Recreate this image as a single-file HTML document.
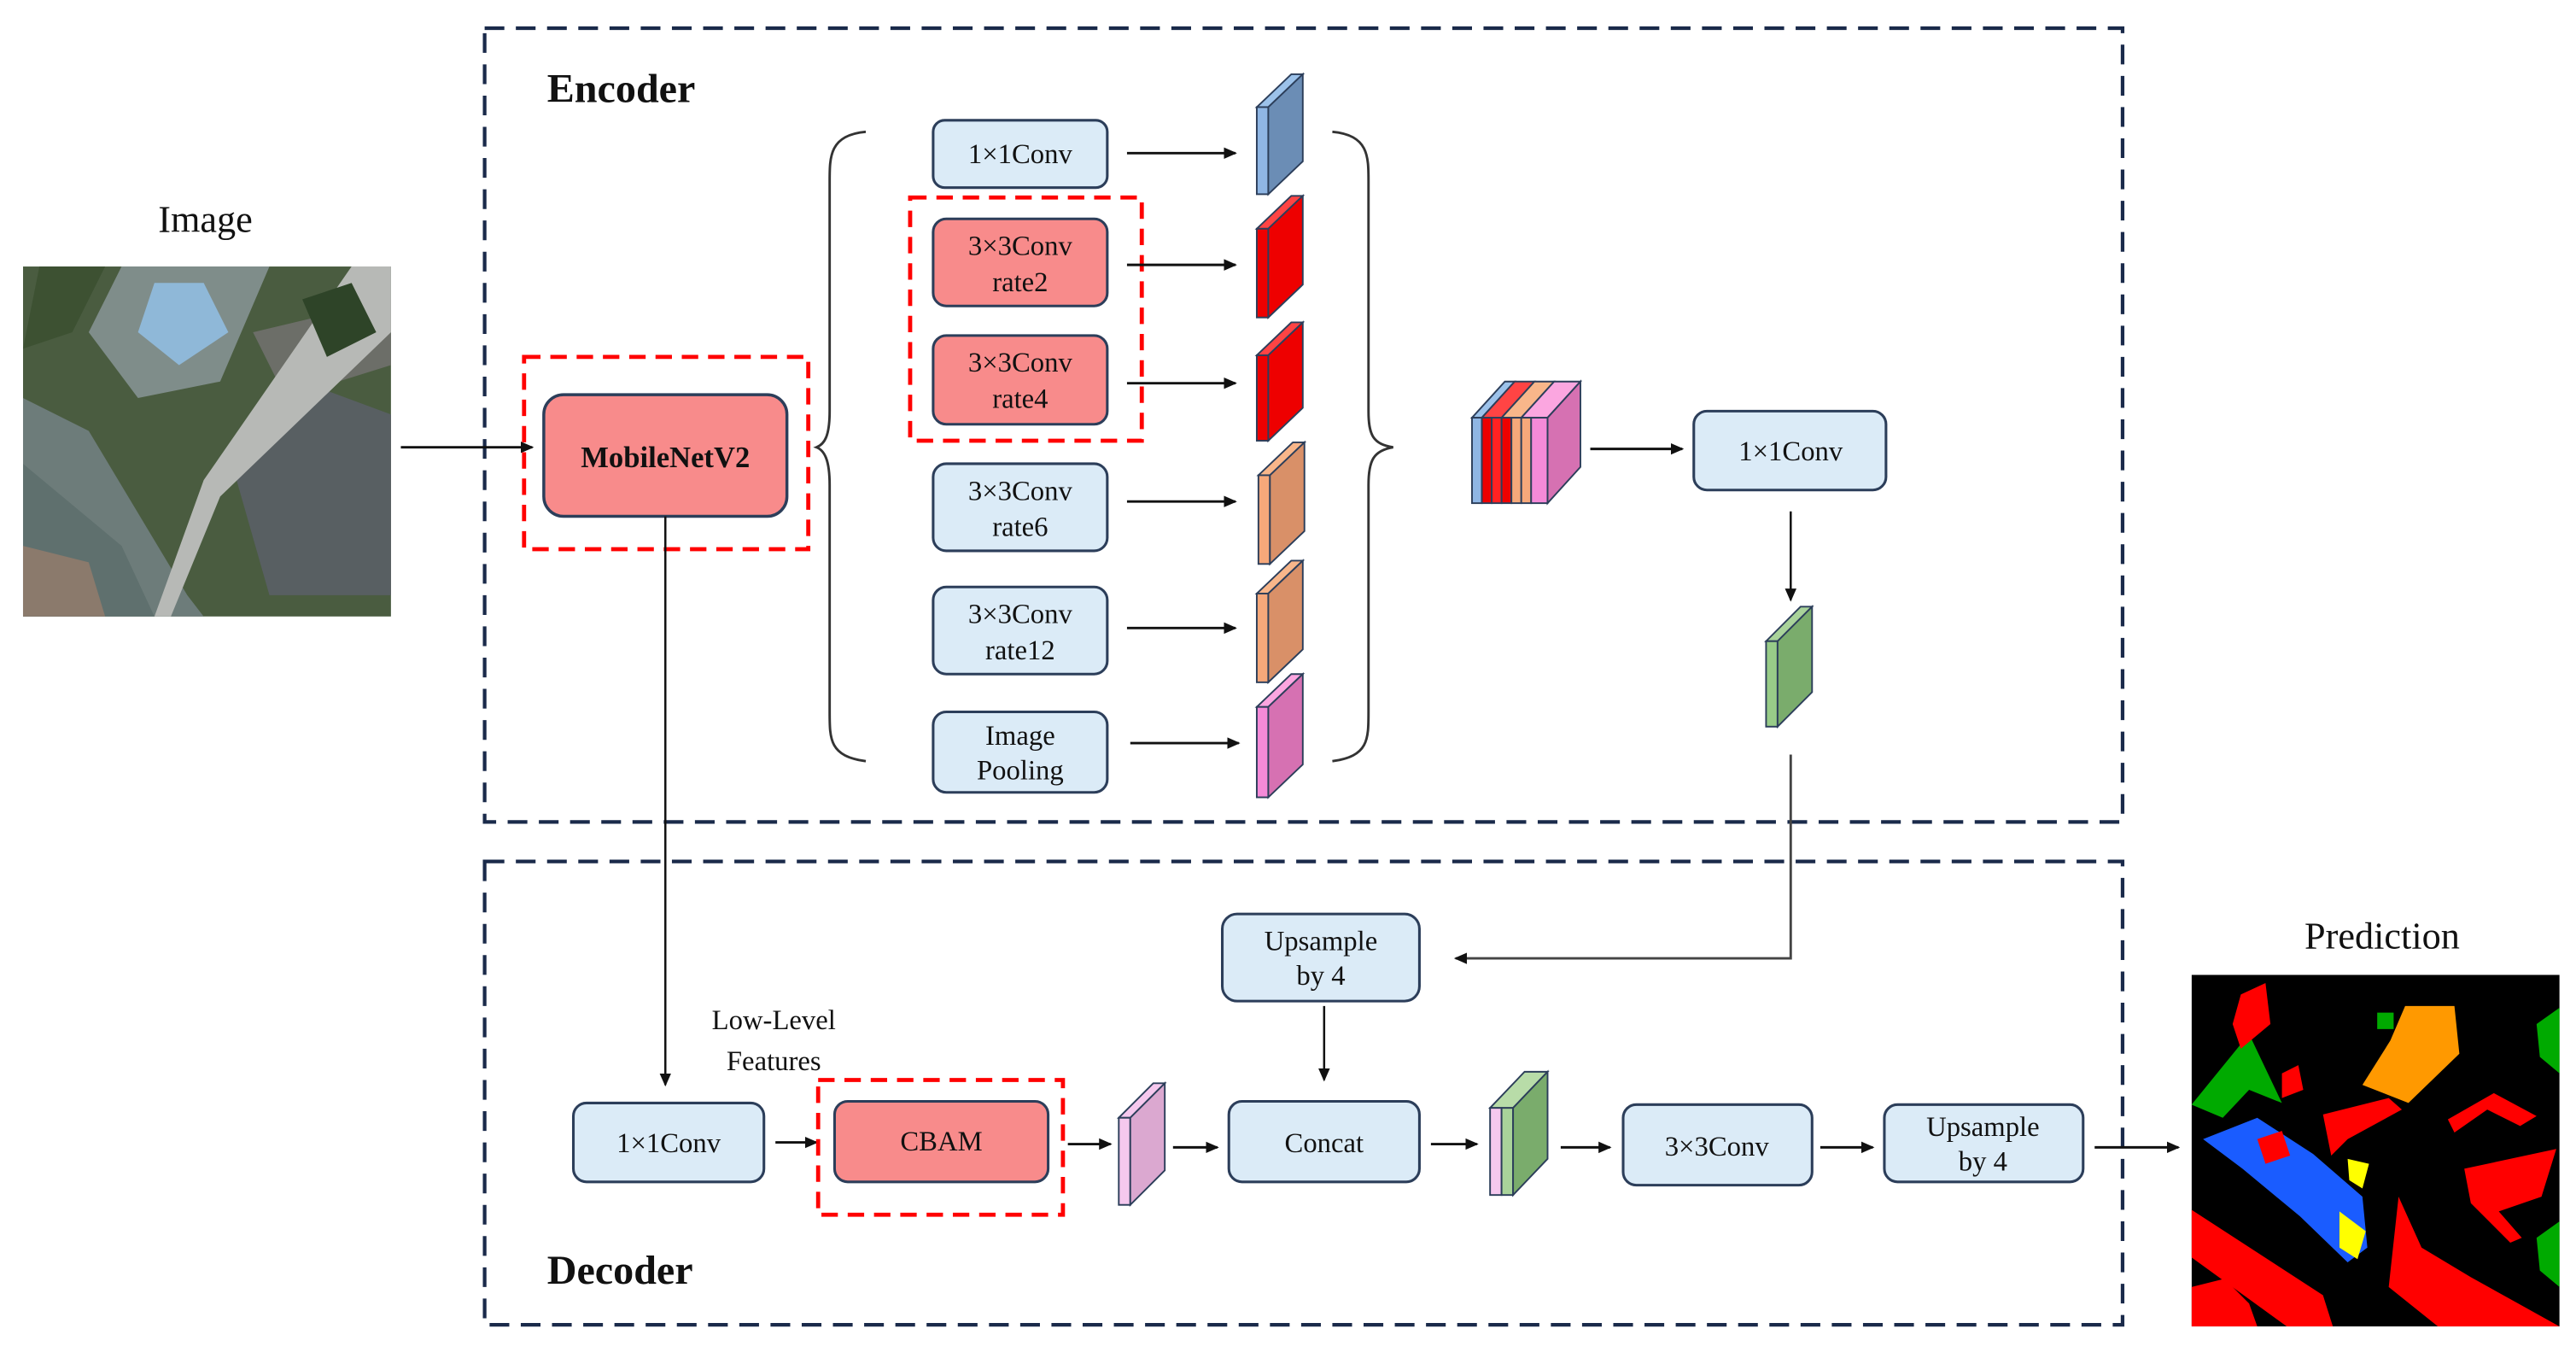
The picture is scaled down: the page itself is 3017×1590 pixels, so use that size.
<!DOCTYPE html>
<html><head><meta charset="utf-8"><style>
html,body{margin:0;padding:0;background:#fff;}
svg{display:block;}
svg text{font-family:"Liberation Serif","DejaVu Serif",serif;fill:#111;}
</style></head><body>
<svg width="3017" height="1590" viewBox="0 0 1568 826" xmlns="http://www.w3.org/2000/svg" font-family="Liberation Serif, DejaVu Serif, serif">
<defs>
<marker id="a" markerWidth="8" markerHeight="8" refX="7" refY="4" orient="auto" markerUnits="userSpaceOnUse"><path d="M0,0.5 L8,4 L0,7.5 z" fill="#111"/></marker>
<clipPath id="pc"><rect x="0" y="0" width="224" height="214"/></clipPath>
<clipPath id="ic"><rect x="0" y="0" width="224" height="213"/></clipPath>
</defs>

<rect x="295" y="17" width="997" height="483" fill="none" stroke="#1a2a4a" stroke-width="2.2" stroke-dasharray="12,7"/>
<rect x="295" y="524" width="997" height="282" fill="none" stroke="#1a2a4a" stroke-width="2.2" stroke-dasharray="12,7"/>
<text x="333" y="62" font-size="25" font-weight="bold">Encoder</text>
<text x="333" y="781" font-size="25" font-weight="bold">Decoder</text>

<text x="125" y="141" font-size="23" text-anchor="middle">Image</text>
<g transform="translate(14,162)" clip-path="url(#ic)">
<rect width="224" height="213" fill="#4a5c40"/>
<polygon points="0,80 40,100 100,200 110,213 0,213" fill="#6d7c7a"/>
<polygon points="0,120 60,170 80,213 0,213" fill="#5f706e"/>
<polygon points="60,0 150,0 120,70 70,80 40,40" fill="#7f8d8a"/>
<polygon points="80,10 110,10 125,40 95,60 70,40" fill="#8fb8d8"/>
<polygon points="170,70 224,90 224,200 150,200 130,130" fill="#585f62"/>
<polygon points="140,40 224,20 224,60 160,80" fill="#6c6e68"/>
<polygon points="200,0 224,0 224,40 120,140 90,213 80,213 110,130" fill="#b7b9b6"/>
<polygon points="10,0 50,0 30,40 0,50" fill="#3d5132"/>
<polygon points="0,170 40,180 50,213 0,213" fill="#8b7a6c"/>
<polygon points="170,20 200,10 215,40 185,55" fill="#2e4428"/>
</g>
<line x1="244" y1="272" x2="324" y2="272" stroke="#111" stroke-width="1.5" marker-end="url(#a)"/>

<rect x="319" y="217" width="173" height="117" fill="none" stroke="#f00" stroke-width="2.5" stroke-dasharray="10,6"/>
<rect x="331" y="240" width="148" height="74" rx="12" fill="#f88b8b" stroke="#2c3e5a" stroke-width="1.8"/>
<text x="405" y="284" font-size="18" font-weight="bold" text-anchor="middle">MobileNetV2</text>

<path d="M527,80 C505,82 505,95 505,110 L505,250 C505,265 502,270 497,272 C502,274 505,280 505,295 L505,433 C505,450 505,460 527,463" fill="none" stroke="#333" stroke-width="1.5"/>

<rect x="554" y="120" width="141" height="148" fill="none" stroke="#f00" stroke-width="2.5" stroke-dasharray="10,6"/>
<g stroke="#2c3e5a" stroke-width="1.6">
<rect x="568" y="73" width="106" height="41" rx="7" fill="#dbebf7"/>
<rect x="568" y="133" width="106" height="53" rx="8" fill="#f88b8b"/>
<rect x="568" y="204" width="106" height="54" rx="8" fill="#f88b8b"/>
<rect x="568" y="282" width="106" height="53" rx="8" fill="#dbebf7"/>
<rect x="568" y="357" width="106" height="53" rx="8" fill="#dbebf7"/>
<rect x="568" y="433" width="106" height="49" rx="8" fill="#dbebf7"/>
</g>
<g font-size="17" text-anchor="middle">
<text x="621" y="99">1×1Conv</text>
<text x="621" y="155">3×3Conv</text><text x="621" y="177">rate2</text>
<text x="621" y="226">3×3Conv</text><text x="621" y="248">rate4</text>
<text x="621" y="304">3×3Conv</text><text x="621" y="326">rate6</text>
<text x="621" y="379">3×3Conv</text><text x="621" y="401">rate12</text>
<text x="621" y="453">Image</text><text x="621" y="474">Pooling</text>
</g>
<g stroke="#111" stroke-width="1.5" marker-end="url(#a)">
<line x1="686" y1="93" x2="752" y2="93"/>
<line x1="686" y1="161" x2="752" y2="161"/>
<line x1="686" y1="233" x2="752" y2="233"/>
<line x1="686" y1="305" x2="752" y2="305"/>
<line x1="686" y1="382" x2="752" y2="382"/>
<line x1="688" y1="452" x2="754" y2="452"/>
</g>

<g stroke="#2c3e5a" stroke-width="1">
<polygon points="765,65 786,45 793,45 772,65" fill="#9cc2ea"/><rect x="765" y="65" width="7" height="53" fill="#8fb6e4"/><polygon points="772,65 793,45 793,98 772,118" fill="#6b8db5"/>
<polygon points="765,139 786,119 793,119 772,139" fill="#f44"/><rect x="765" y="139" width="7" height="54" fill="#e00"/><polygon points="772,139 793,119 793,173 772,193" fill="#e00"/>
<polygon points="765,216 786,196 793,196 772,216" fill="#f44"/><rect x="765" y="216" width="7" height="52" fill="#e00"/><polygon points="772,216 793,196 793,248 772,268" fill="#e00"/>
<polygon points="766,289 787,269 794,269 773,289" fill="#f8b68a"/><rect x="766" y="289" width="7" height="54" fill="#f6a87a"/><polygon points="773,289 794,269 794,323 773,343" fill="#d99068"/>
<polygon points="765,361 786,341 793,341 772,361" fill="#f8b68a"/><rect x="765" y="361" width="7" height="54" fill="#f6a87a"/><polygon points="772,361 793,341 793,395 772,415" fill="#d99068"/>
<polygon points="765,430 786,410 793,410 772,430" fill="#fba6e0"/><rect x="765" y="430" width="7" height="55" fill="#f58ad8"/><polygon points="772,430 793,410 793,465 772,485" fill="#d671b2"/>
</g>

<path d="M811,80 C833,82 833,95 833,110 L833,250 C833,265 836,270 848,272 C836,274 833,280 833,295 L833,433 C833,450 833,460 811,463" fill="none" stroke="#333" stroke-width="1.5"/>

<g stroke="#2c3e5a" stroke-width="1">
<polygon points="896,254 916,232 922,232 902,254" fill="#9cc2ea"/>
<polygon points="902,254 922,232 934,232 914,254" fill="#f44"/>
<polygon points="914,254 934,232 946,232 926,254" fill="#f8b68a"/>
<polygon points="926,254 946,232 962,232 942,254" fill="#fba6e0"/>
<rect x="896" y="254" width="6" height="52" fill="#8fb6e4"/>
<rect x="902" y="254" width="6" height="52" fill="#e00"/>
<rect x="908" y="254" width="6" height="52" fill="#f22"/>
<rect x="914" y="254" width="6" height="52" fill="#e00"/>
<rect x="920" y="254" width="6" height="52" fill="#f6a87a"/>
<rect x="926" y="254" width="6" height="52" fill="#f6a87a"/>
<rect x="932" y="254" width="10" height="52" fill="#f58ad8"/>
<polygon points="942,254 962,232 962,284 942,306" fill="#d671b2"/>
</g>
<line x1="968" y1="273" x2="1024" y2="273" stroke="#111" stroke-width="1.5" marker-end="url(#a)"/>
<rect x="1031" y="250" width="117" height="48" rx="8" fill="#dbebf7" stroke="#2c3e5a" stroke-width="1.6"/>
<text x="1090" y="280" font-size="17" text-anchor="middle">1×1Conv</text>
<line x1="1090" y1="311" x2="1090" y2="365" stroke="#111" stroke-width="1.3" marker-end="url(#a)"/>
<g stroke="#2c3e5a" stroke-width="1">
<polygon points="1075,390 1096,369 1103,369 1082,390" fill="#a9d39a"/><rect x="1075" y="390" width="7" height="52" fill="#98cc88"/><polygon points="1082,390 1103,369 1103,421 1082,442" fill="#7aac6c"/>
</g>
<polyline points="1090,459 1090,583 886,583" fill="none" stroke="#444" stroke-width="1.5" marker-end="url(#a)"/>

<rect x="744" y="556" width="120" height="53" rx="9" fill="#dbebf7" stroke="#2c3e5a" stroke-width="1.6"/>
<text x="804" y="578" font-size="17" text-anchor="middle">Upsample</text>
<text x="804" y="599" font-size="17" text-anchor="middle">by 4</text>
<line x1="806" y1="612" x2="806" y2="657" stroke="#111" stroke-width="1.3" marker-end="url(#a)"/>
<line x1="405" y1="314" x2="405" y2="660" stroke="#111" stroke-width="1.3" marker-end="url(#a)"/>
<text x="471" y="626" font-size="17" text-anchor="middle">Low-Level</text>
<text x="471" y="651" font-size="17" text-anchor="middle">Features</text>

<rect x="349" y="671" width="116" height="48" rx="8" fill="#dbebf7" stroke="#2c3e5a" stroke-width="1.6"/>
<text x="407" y="701" font-size="17" text-anchor="middle">1×1Conv</text>
<line x1="472" y1="695" x2="497" y2="695" stroke="#111" stroke-width="1.5" marker-end="url(#a)"/>
<rect x="498" y="657" width="149" height="82" fill="none" stroke="#f00" stroke-width="2.5" stroke-dasharray="10,6"/>
<rect x="508" y="670" width="130" height="49" rx="8" fill="#f88b8b" stroke="#2c3e5a" stroke-width="1.6"/>
<text x="573" y="700" font-size="17" text-anchor="middle">CBAM</text>
<line x1="650" y1="696" x2="676" y2="696" stroke="#111" stroke-width="1.5" marker-end="url(#a)"/>
<g stroke="#2c3e5a" stroke-width="1">
<polygon points="681,680 702,659 709,659 688,680" fill="#f5c8ee"/><rect x="681" y="680" width="7" height="53" fill="#f5c8ee"/><polygon points="688,680 709,659 709,712 688,733" fill="#dba8d0"/>
</g>
<line x1="714" y1="698" x2="741" y2="698" stroke="#111" stroke-width="1.5" marker-end="url(#a)"/>
<rect x="748" y="670" width="116" height="49" rx="8" fill="#dbebf7" stroke="#2c3e5a" stroke-width="1.6"/>
<text x="806" y="701" font-size="17" text-anchor="middle">Concat</text>
<line x1="871" y1="696" x2="899" y2="696" stroke="#111" stroke-width="1.5" marker-end="url(#a)"/>
<g stroke="#2c3e5a" stroke-width="1">
<polygon points="907,674 928,652 942,652 921,674" fill="#b8dca8"/>
<rect x="907" y="674" width="7" height="53" fill="#f5c8ee"/><rect x="914" y="674" width="7" height="53" fill="#a9d39a"/>
<polygon points="921,674 942,652 942,705 921,727" fill="#7aac6c"/>
</g>
<line x1="950" y1="698" x2="980" y2="698" stroke="#111" stroke-width="1.5" marker-end="url(#a)"/>
<rect x="988" y="672" width="115" height="49" rx="8" fill="#dbebf7" stroke="#2c3e5a" stroke-width="1.6"/>
<text x="1045" y="703" font-size="17" text-anchor="middle">3×3Conv</text>
<line x1="1108" y1="698" x2="1140" y2="698" stroke="#111" stroke-width="1.5" marker-end="url(#a)"/>
<rect x="1147" y="672" width="121" height="47" rx="8" fill="#dbebf7" stroke="#2c3e5a" stroke-width="1.6"/>
<text x="1207" y="691" font-size="17" text-anchor="middle">Upsample</text>
<text x="1207" y="712" font-size="17" text-anchor="middle">by 4</text>
<line x1="1275" y1="698" x2="1326" y2="698" stroke="#111" stroke-width="1.5" marker-end="url(#a)"/>

<text x="1450" y="577" font-size="23" text-anchor="middle">Prediction</text>
<g transform="translate(1334,593)" clip-path="url(#pc)">
<rect width="224" height="214" fill="#000"/>
<polygon points="0,143 80,195 86,214 58,214 0,172" fill="#f00"/>
<polygon points="126,135 140,166 170,184 224,214 150,214 120,190" fill="#f00"/>
<polygon points="0,190 20,185 35,200 40,214 0,214" fill="#f00"/>
<polygon points="166,118 222,106 213,135 187,144 201,160 194,163 170,139" fill="#f00"/>
<polygon points="156,88 184,72 210,86 200,92 180,82 160,96" fill="#f00"/>
<polygon points="130,19 160,19 163,48 132,78 104,67 121,40" fill="#f90"/>
<polygon points="7,100 40,87 74,109 104,135 107,166 95,175 66,147 31,118" fill="#1a5cff"/>
<polygon points="0,79 35,36 55,78 35,70 19,87" fill="#0a0"/>
<polygon points="90,144 106,156 101,173 90,166" fill="#ff0"/>
<polygon points="30,12 45,5 48,30 30,45 25,30" fill="#f00"/>
<polygon points="55,60 65,55 68,70 55,75" fill="#f00"/>
<polygon points="80,85 120,75 128,82 95,100 85,110" fill="#f00"/>
<polygon points="40,100 55,95 60,110 45,115" fill="#f00"/>
<polygon points="113,23 123,23 123,33 113,33" fill="#0a0"/>
<polygon points="210,30 224,20 224,60 212,50" fill="#0a0"/>
<polygon points="210,160 224,150 224,190 212,180" fill="#0a0"/>
<polygon points="95,112 108,115 104,130 96,125" fill="#ff0"/>
</g>
</svg>
</body></html>
